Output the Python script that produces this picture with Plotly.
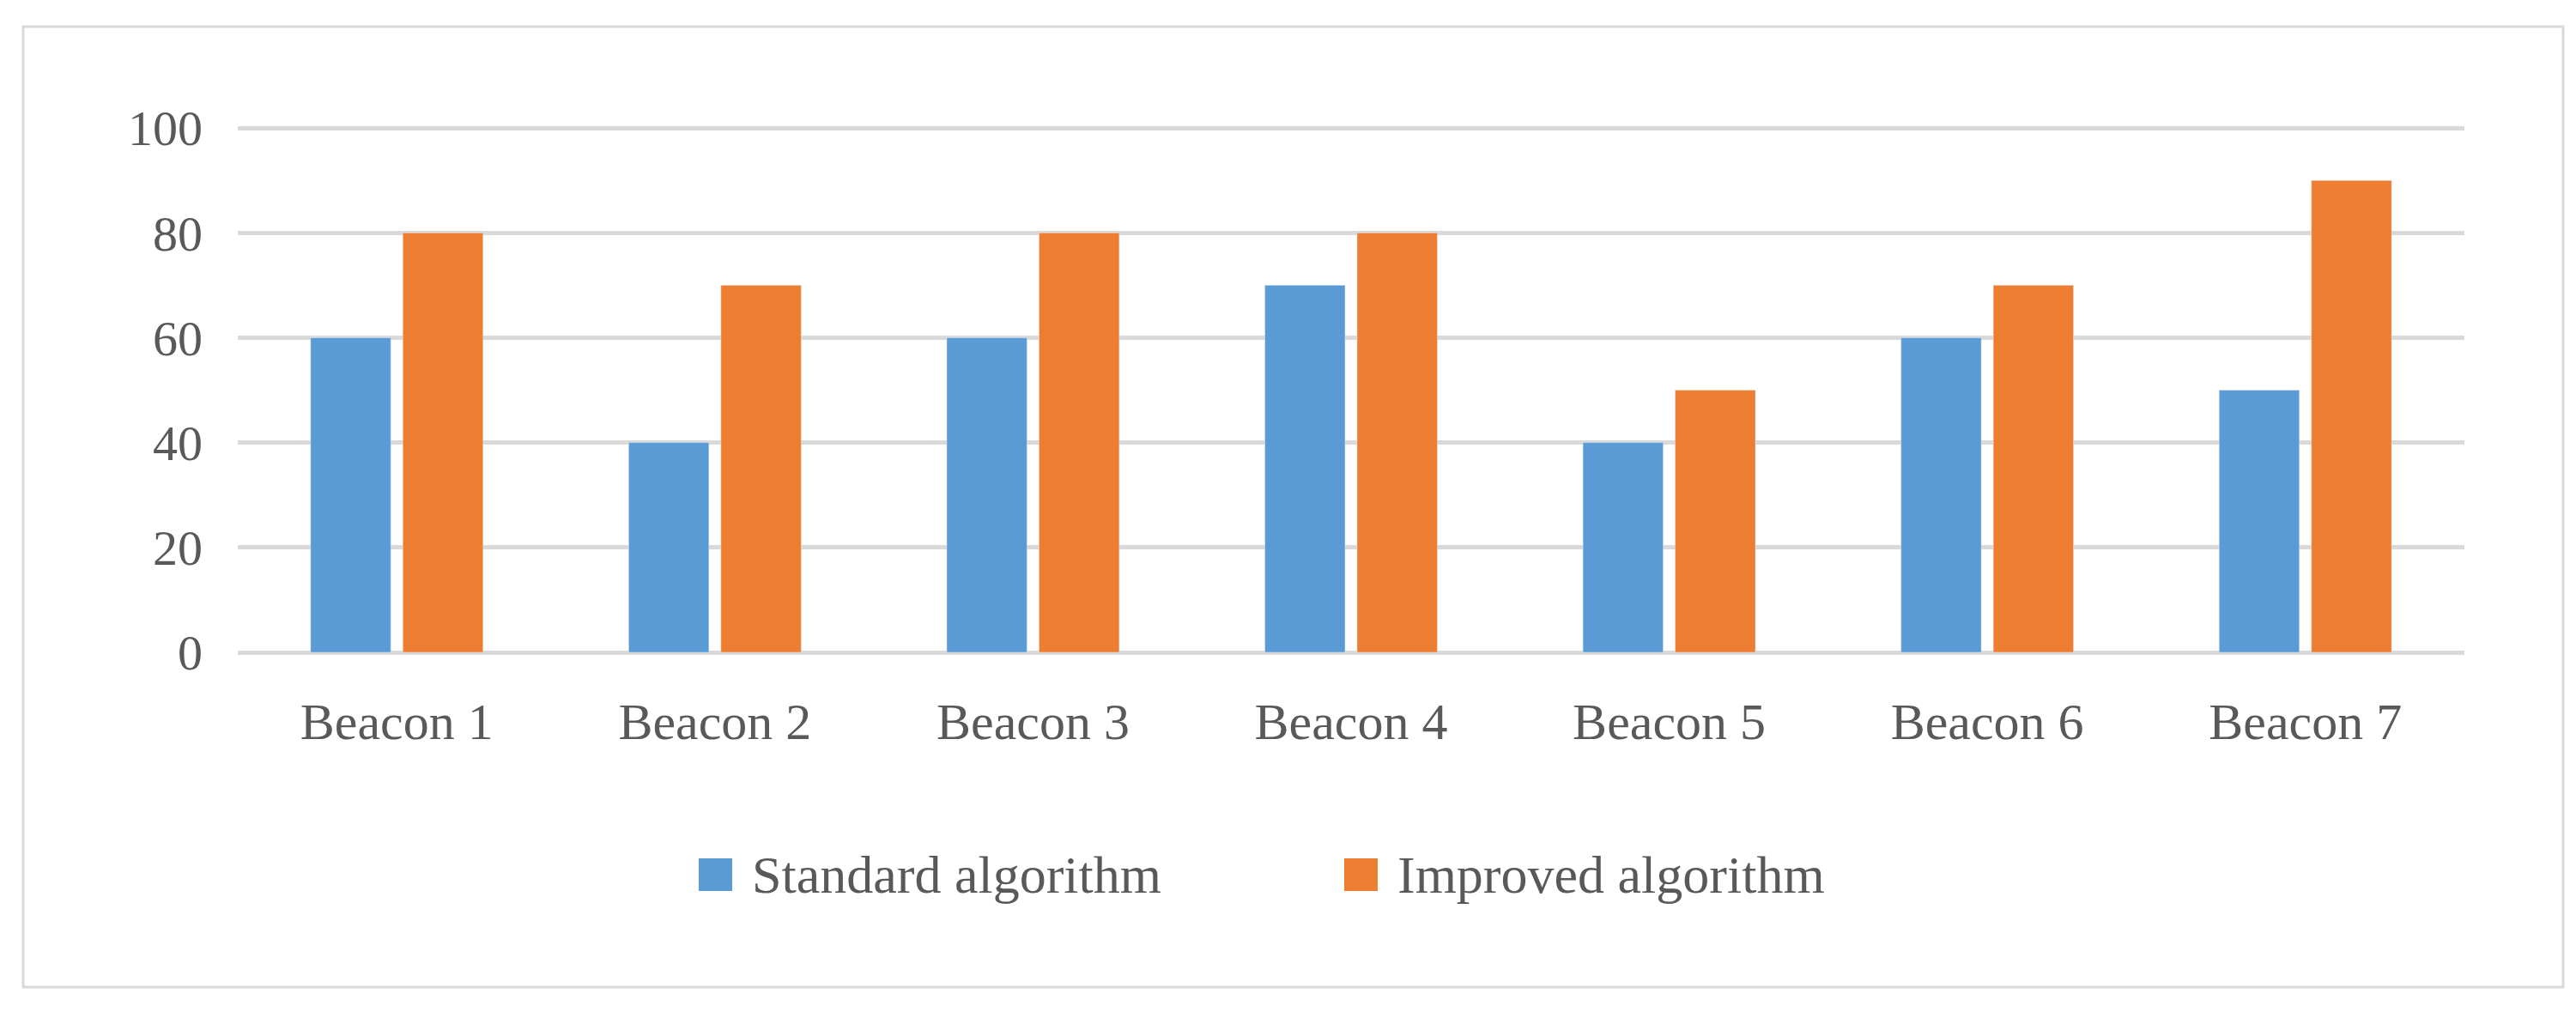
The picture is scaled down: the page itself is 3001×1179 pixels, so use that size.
import plotly.graph_objects as go

beacons = ["Beacon 1", "Beacon 2", "Beacon 3", "Beacon 4", "Beacon 5", "Beacon 6", "Beacon 7"]
standard = [60, 40, 60, 70, 40, 60, 50]
improved = [80, 70, 80, 80, 50, 70, 90]
series_names = ["Standard algorithm", "Improved algorithm"]
series_colors = ["#5B9BD5", "#ED7D31"]

W, H = 3001, 1179
L, R, T, B = 269, 138, 138, 427
pw, ph = W - L - R, H - T - B

def px_x(x):
    return (x - L) / pw

def px_y(y):
    return (H - B - y) / ph

fig = go.Figure()
for name, vals, col in zip(series_names, [standard, improved], series_colors):
    fig.add_trace(go.Bar(x=beacons, y=vals, name=name, marker_color=col, showlegend=False))

font = dict(family="Liberation Serif, DejaVu Serif, serif", color="#595959")

# hand-made legend with larger square swatches
shapes = [dict(type="rect", xref="paper", yref="paper",
               x0=px_x(19), x1=px_x(2978), y0=px_y(1142), y1=px_y(23),
               line=dict(color="#D9D9D9", width=3))]
annotations = []
for i, (name, col) in enumerate(zip(series_names, series_colors)):
    sx = [806, 1558][i]
    shapes.append(dict(type="rect", xref="paper", yref="paper",
                       x0=px_x(sx), x1=px_x(sx + 39), y0=px_y(1030), y1=px_y(992),
                       fillcolor=col, line=dict(width=0)))
    annotations.append(dict(xref="paper", yref="paper", x=px_x(sx + 60), y=px_y(1011),
                            xanchor="left", yanchor="middle", showarrow=False, text=name,
                            font=dict(size=62, **font)))

fig.update_layout(
    width=W, height=H,
    margin=dict(l=L, r=R, t=T, b=B),
    plot_bgcolor="white", paper_bgcolor="white",
    barmode="group", bargap=0.42, bargroupgap=0.13,
    font=dict(size=60, **font),
    shapes=shapes, annotations=annotations,
)
fig.update_yaxes(range=[0, 100.5], dtick=20, gridcolor="#D9D9D9", gridwidth=5,
                 zeroline=True, zerolinecolor="#D9D9D9", zerolinewidth=5,
                 tickfont=dict(size=58, **font), ticks="", ticklabelstandoff=40)
fig.update_xaxes(showline=False, tickfont=dict(size=60, **font), ticklabelstandoff=40)

fig.write_html("out.html")
